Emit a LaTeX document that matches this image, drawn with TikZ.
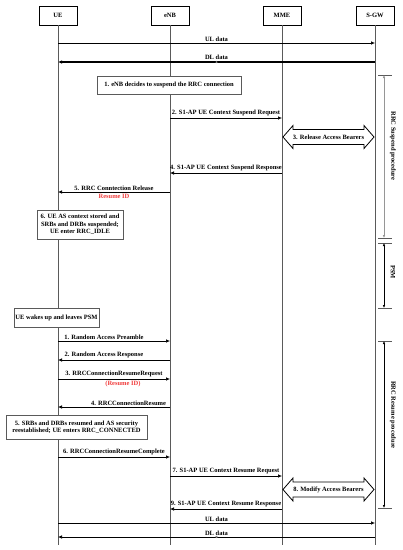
\documentclass[tikz,border=0pt]{standalone}
\usepackage{fontspec}
\setmainfont{Liberation Serif}
\usetikzlibrary{positioning,arrows.meta,calc}
\definecolor{lnGray}{RGB}{90,90,90}
\definecolor{brGray}{RGB}{150,150,150}
\definecolor{idRed}{RGB}{240,60,60}

\begin{document}
\begin{tikzpicture}[
    x=1pt, y=-1pt,
    font=\fontsize{6.5}{7.5}\selectfont\bfseries,
    head/.style={rectangle, draw=black, line width=0.9pt, minimum width=38pt, minimum height=19pt, inner sep=0pt},
    life/.style={draw=lnGray, line width=0.8pt},
    msg/.style={draw=black, line width=0.6pt, -{Latex[length=4pt,width=3.5pt]}},
    note/.style={rectangle, draw=lnGray, line width=0.5pt, fill=white, inner sep=2pt, align=center},
    lbl/.style={above, inner sep=1.5pt},
    rid/.style={below, inner sep=1.5pt, text=idRed},
    bearer/.style={draw=black, line width=0.8pt, fill=white},
    bracket/.style={line width=0.5pt, {Latex[length=3pt,width=2.5pt]}-{Latex[length=3pt,width=2.5pt]}},
    tickmark/.style={draw=lnGray, line width=0.6pt},
    phase/.style={rotate=-90, inner sep=0pt}
]
  \useasboundingbox (0,0) rectangle (403,550);

  % entities
  \node[head] (ue) at (58,15.5) {UE};
  \node[head] (enb) at (170,15.5) {eNB};
  \node[head] (mme) at (282,15.5) {MME};
  \node[head] (sgw) at (375,15.5) {S-GW};
  \foreach \n in {ue,enb,mme,sgw}
    \draw[life] (\n.south) -- (\n |- 0,545);

  % data before suspend
  \draw[msg] (ue |- 0,43) -- node[lbl] {UL data} (sgw |- 0,43);
  \draw[msg, line width=1.1pt] (sgw |- 0,62) -- node[lbl] {DL data}
    node[circle, draw, fill=white, inner sep=0pt, minimum size=2pt, line width=0.3pt] {} (ue |- 0,62);

  % suspend procedure
  \node[note, minimum width=144pt, minimum height=18pt] (n1) at (169,85) {1. eNB decides to suspend the RRC connection};
  \draw[msg] (enb |- 0,118) -- node[lbl] {2. S1-AP UE Context Suspend Request} (mme |- 0,118);
  \draw[msg] (mme |- 0,173) -- node[lbl] {4. S1-AP UE Context Suspend Response} (enb |- 0,173);
  \draw[msg] (enb |- 0,192) -- node[lbl] {5. RRC Conntection Release}
    node[rid] {Resume ID} (ue |- 0,192);
  \node[note, minimum width=86pt, minimum height=29pt, inner sep=1pt] (n6) at (80,224.5)
    {6. UE AS context stored and\\SRBs and DRBs suspended;\\UE enter RRC\_IDLE};

  % bearers
  \foreach \y/\t in {137/3. Release Access Bearers, 489.5/8. Modify Access Bearers} {
    \draw[bearer] (283,\y) -- (293,\y-11.5) -- (293,\y-7.5) -- (364,\y-7.5) -- (364,\y-11.5)
      -- (374,\y) -- (364,\y+11.5) -- (364,\y+7.5) -- (293,\y+7.5) -- (293,\y+11.5) -- cycle;
    \node at (328.5,\y) {\t};
  }

  % resume procedure
  \node[note, minimum width=85pt, minimum height=19pt, inner sep=1pt] (wake) at (56.5,317.5) {UE wakes up and leaves PSM};
  \draw[msg] (ue |- 0,341) -- node[lbl, pos=0.41] {1. Random Access Preamble} (enb |- 0,341);
  \draw[msg] (enb |- 0,360) -- node[lbl, pos=0.59] {2. Random Access Response} (ue |- 0,360);
  \draw[msg] (ue |- 0,379) -- node[lbl] {3. RRCConnectionResumeRequest}
    node[rid, pos=0.58] {(Resume ID)} (enb |- 0,379);
  \draw[msg] (enb |- 0,407) -- node[lbl, pos=0.37] {4. RRCConnectionResume} (ue |- 0,407);
  \node[note, minimum width=141pt, minimum height=24pt, inner sep=1pt] (n5) at (76.5,427)
    {5. SRBs and DRBs resumed and AS security\\reestablished; UE enters RRC\_CONNECTED};
  \draw[msg] (ue |- 0,457) -- node[lbl] {6. RRCConnectionResumeComplete} (enb |- 0,457);
  \draw[msg] (enb |- 0,476) -- node[lbl] {7. S1-AP UE Context Resume Request} (mme |- 0,476);
  \draw[msg] (mme |- 0,509) -- node[lbl] {9. S1-AP UE Context Resume Response} (enb |- 0,509);

  % data after resume
  \draw[msg] (ue |- 0,523) -- node[lbl] {UL data} (sgw |- 0,523);
  \draw[msg] (sgw |- 0,537) -- node[lbl] {DL data}
    node[circle, draw, fill=white, inner sep=0pt, minimum size=2pt, line width=0.3pt] {} (ue |- 0,537);

  % phases
  \foreach \a/\b/\m/\c/\t in {75/238/146/brGray/RRC Suspend procedure, 243/308/272/black/PSM, 341/508/415/black/RRC Resume procedure} {
    \draw[tickmark] (378,\a) -- (392,\a);
    \draw[tickmark] (378,\b) -- (392,\b);
    \draw[bracket, draw=\c, fill=black] (384,\a) -- (384,\b);
    \node[phase] at (393,\m) {\t};
  }
\end{tikzpicture}
\end{document}
